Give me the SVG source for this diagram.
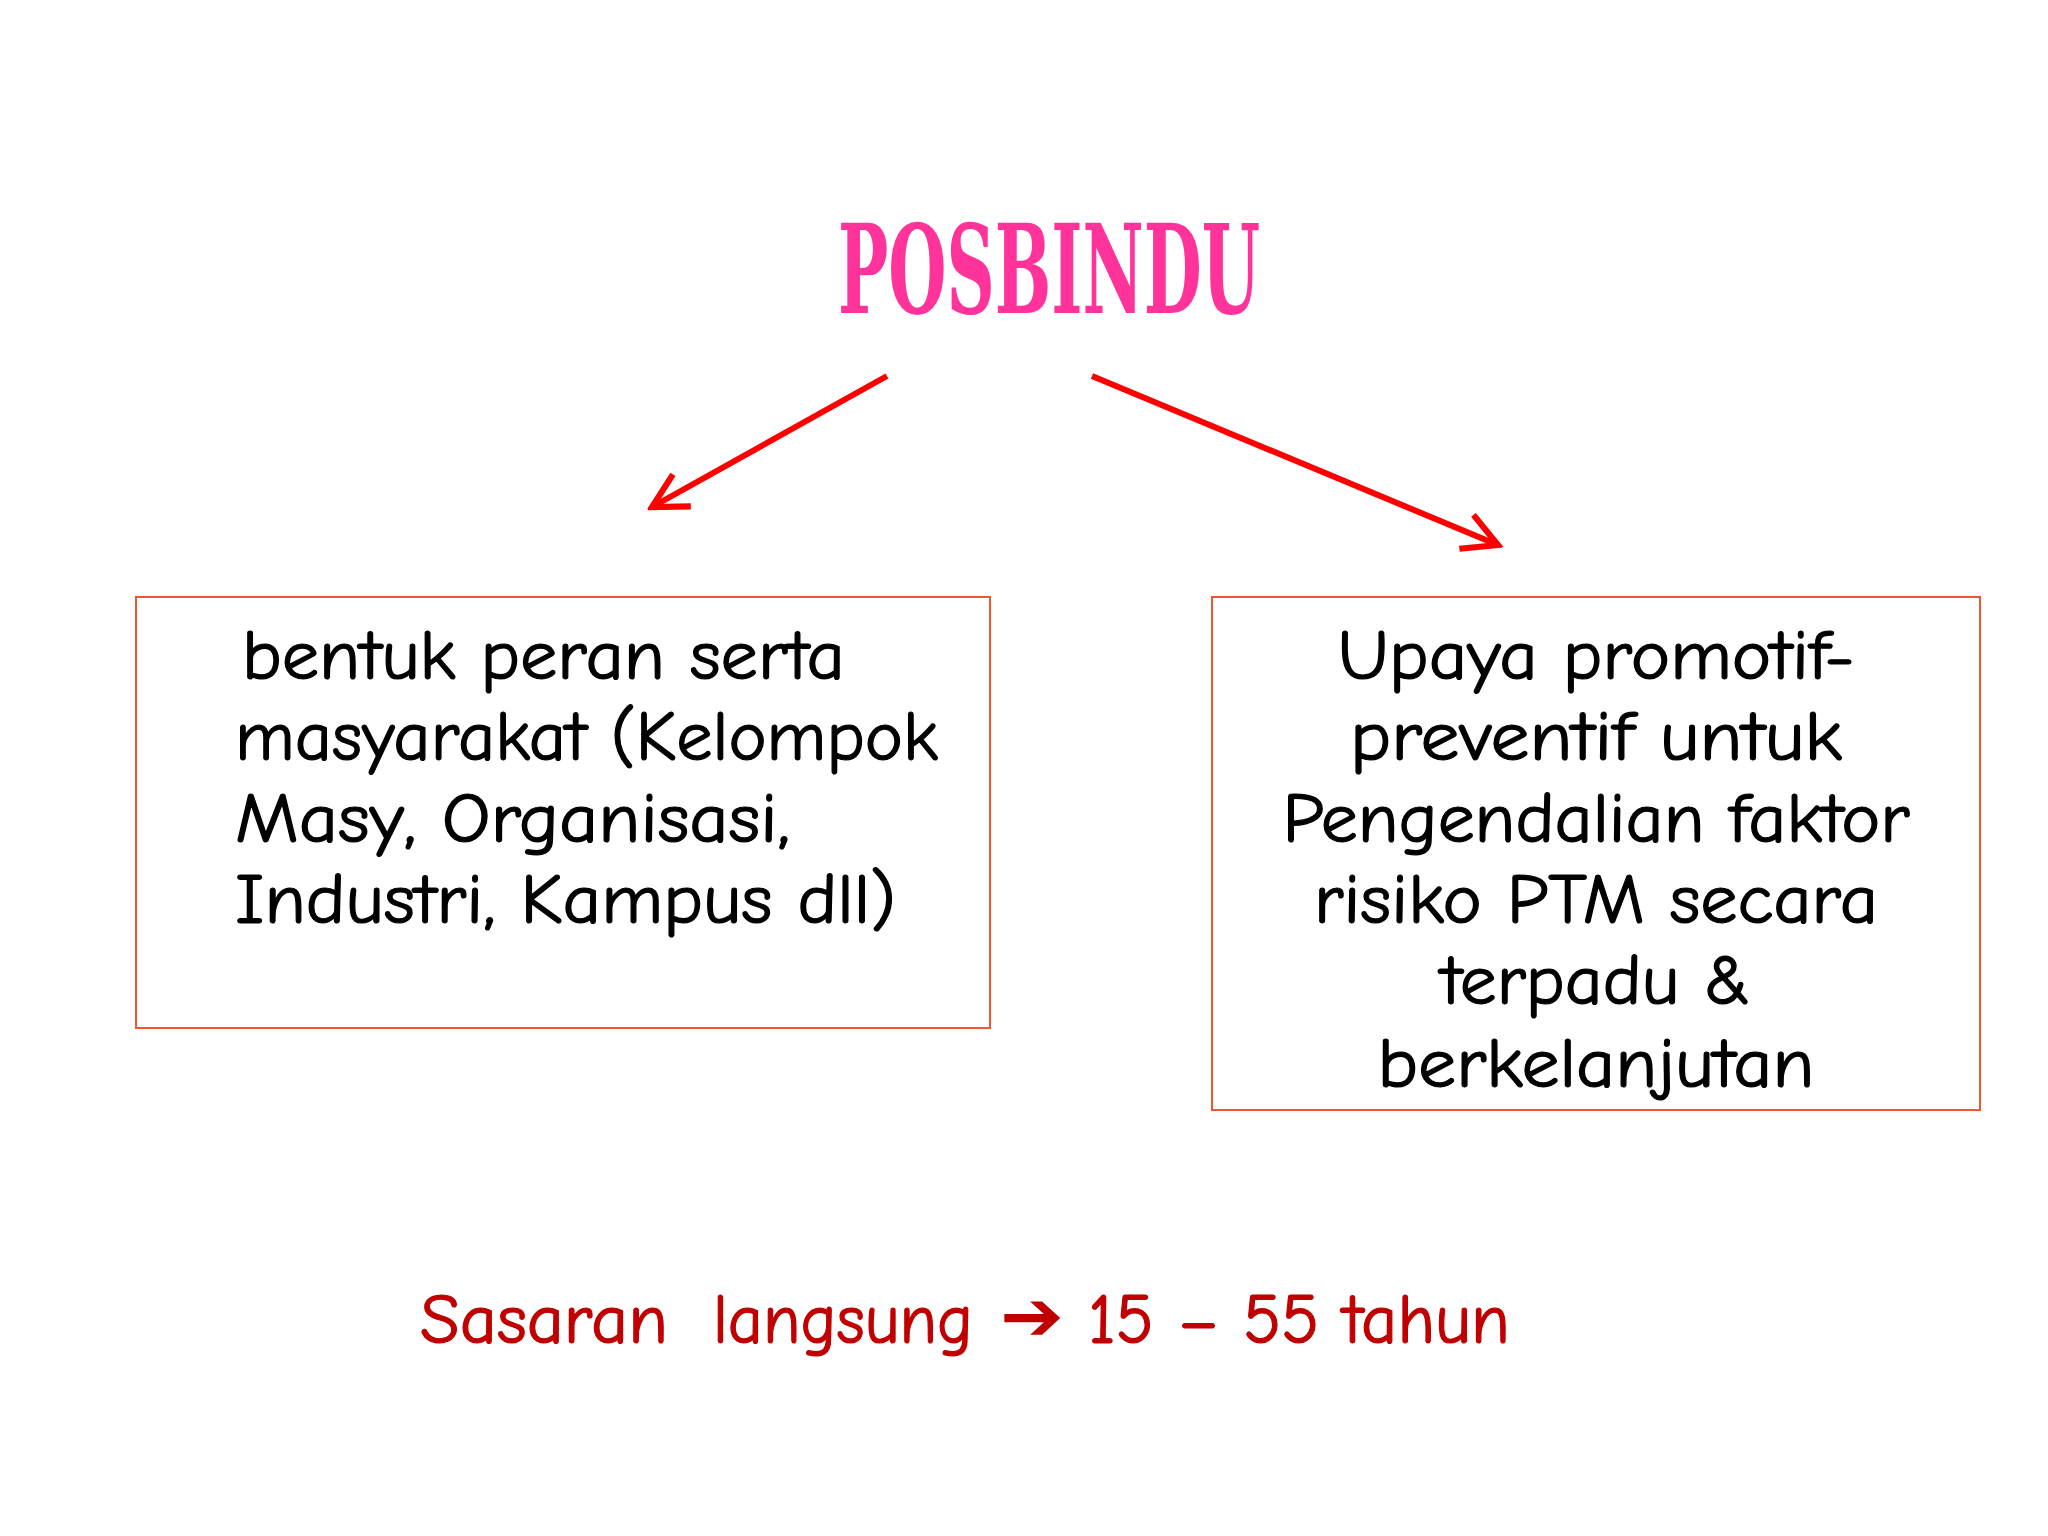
<svg xmlns="http://www.w3.org/2000/svg" width="2048" height="1536" viewBox="0 0 2048 1536">
<style>
.title{font-family:"DejaVu Serif",serif;font-weight:bold;font-stretch:condensed;font-size:124px;fill:#FF3399}
.box{fill:#FFFFFF;stroke:#EE5530;stroke-width:2}
.t{font-family:"Comic Neue","Liberation Sans","DejaVu Sans",sans-serif;font-size:70px;fill:#000000;stroke:#000000;stroke-width:1.2}
.c{text-anchor:middle}
.red{font-family:"Comic Neue","Liberation Sans","DejaVu Sans",sans-serif;font-size:70px;fill:#C00000;stroke:#C00000;stroke-width:1.2}
.conn{stroke:#FF0000;stroke-width:6;fill:none}
</style>
<defs>
<marker id="ah" markerUnits="userSpaceOnUse" markerWidth="44" markerHeight="44" viewBox="0 0 36 36" refX="32" refY="18" orient="auto">
<path d="M4,3 L32,18 L4,33" fill="none" stroke="#FF0000" stroke-width="5"/>
</marker>
</defs>
<rect width="2048" height="1536" fill="#FFFFFF"/>
<g id="title">
<text class="title" x="1049" y="313" text-anchor="middle" textLength="422" lengthAdjust="spacingAndGlyphs">POSBINDU</text>
</g>
<g id="connectors">
<line class="conn" x1="887" y1="376" x2="652" y2="507" marker-end="url(#ah)"/>
<line class="conn" x1="1092" y1="376" x2="1498" y2="545" marker-end="url(#ah)"/>
</g>
<g id="node-left">
<rect class="box" x="136" y="597" width="854" height="431"/>
<text class="t" x="242" y="679" textLength="603" lengthAdjust="spacingAndGlyphs">bentuk peran serta</text>
<text class="t" x="235" y="760" textLength="703" lengthAdjust="spacingAndGlyphs">masyarakat (Kelompok</text>
<text class="t" x="235" y="842" textLength="555" lengthAdjust="spacingAndGlyphs">Masy, Organisasi,</text>
<text class="t" x="235" y="923" textLength="661" lengthAdjust="spacingAndGlyphs">Industri, Kampus dll)</text>
</g>
<g id="node-right">
<rect class="box" x="1212" y="597" width="768" height="513"/>
<text class="t c" x="1596" y="679" textLength="517" lengthAdjust="spacingAndGlyphs">Upaya promotif-</text>
<text class="t c" x="1596" y="760" textLength="492" lengthAdjust="spacingAndGlyphs">preventif untuk</text>
<text class="t c" x="1596" y="842" textLength="627" lengthAdjust="spacingAndGlyphs">Pengendalian faktor</text>
<text class="t c" x="1596" y="923" textLength="564" lengthAdjust="spacingAndGlyphs">risiko PTM secara</text>
<text class="t c" x="1596" y="1004" textLength="310" lengthAdjust="spacingAndGlyphs">terpadu &amp;</text>
<text class="t c" x="1596" y="1087" textLength="437" lengthAdjust="spacingAndGlyphs">berkelanjutan</text>
</g>
<g id="footer">
<text class="red" x="420" y="1343" textLength="248" lengthAdjust="spacingAndGlyphs">Sasaran</text>
<text class="red" x="713" y="1343" textLength="260" lengthAdjust="spacingAndGlyphs">langsung</text>
<text x="1000" y="1340" font-family="DejaVu Sans" font-weight="bold" font-size="70" fill="#C00000" textLength="64" lengthAdjust="spacingAndGlyphs">➔</text>
<text class="red" x="1088" y="1343" textLength="422" lengthAdjust="spacingAndGlyphs">15 – 55 tahun</text>
</g>
</svg>
